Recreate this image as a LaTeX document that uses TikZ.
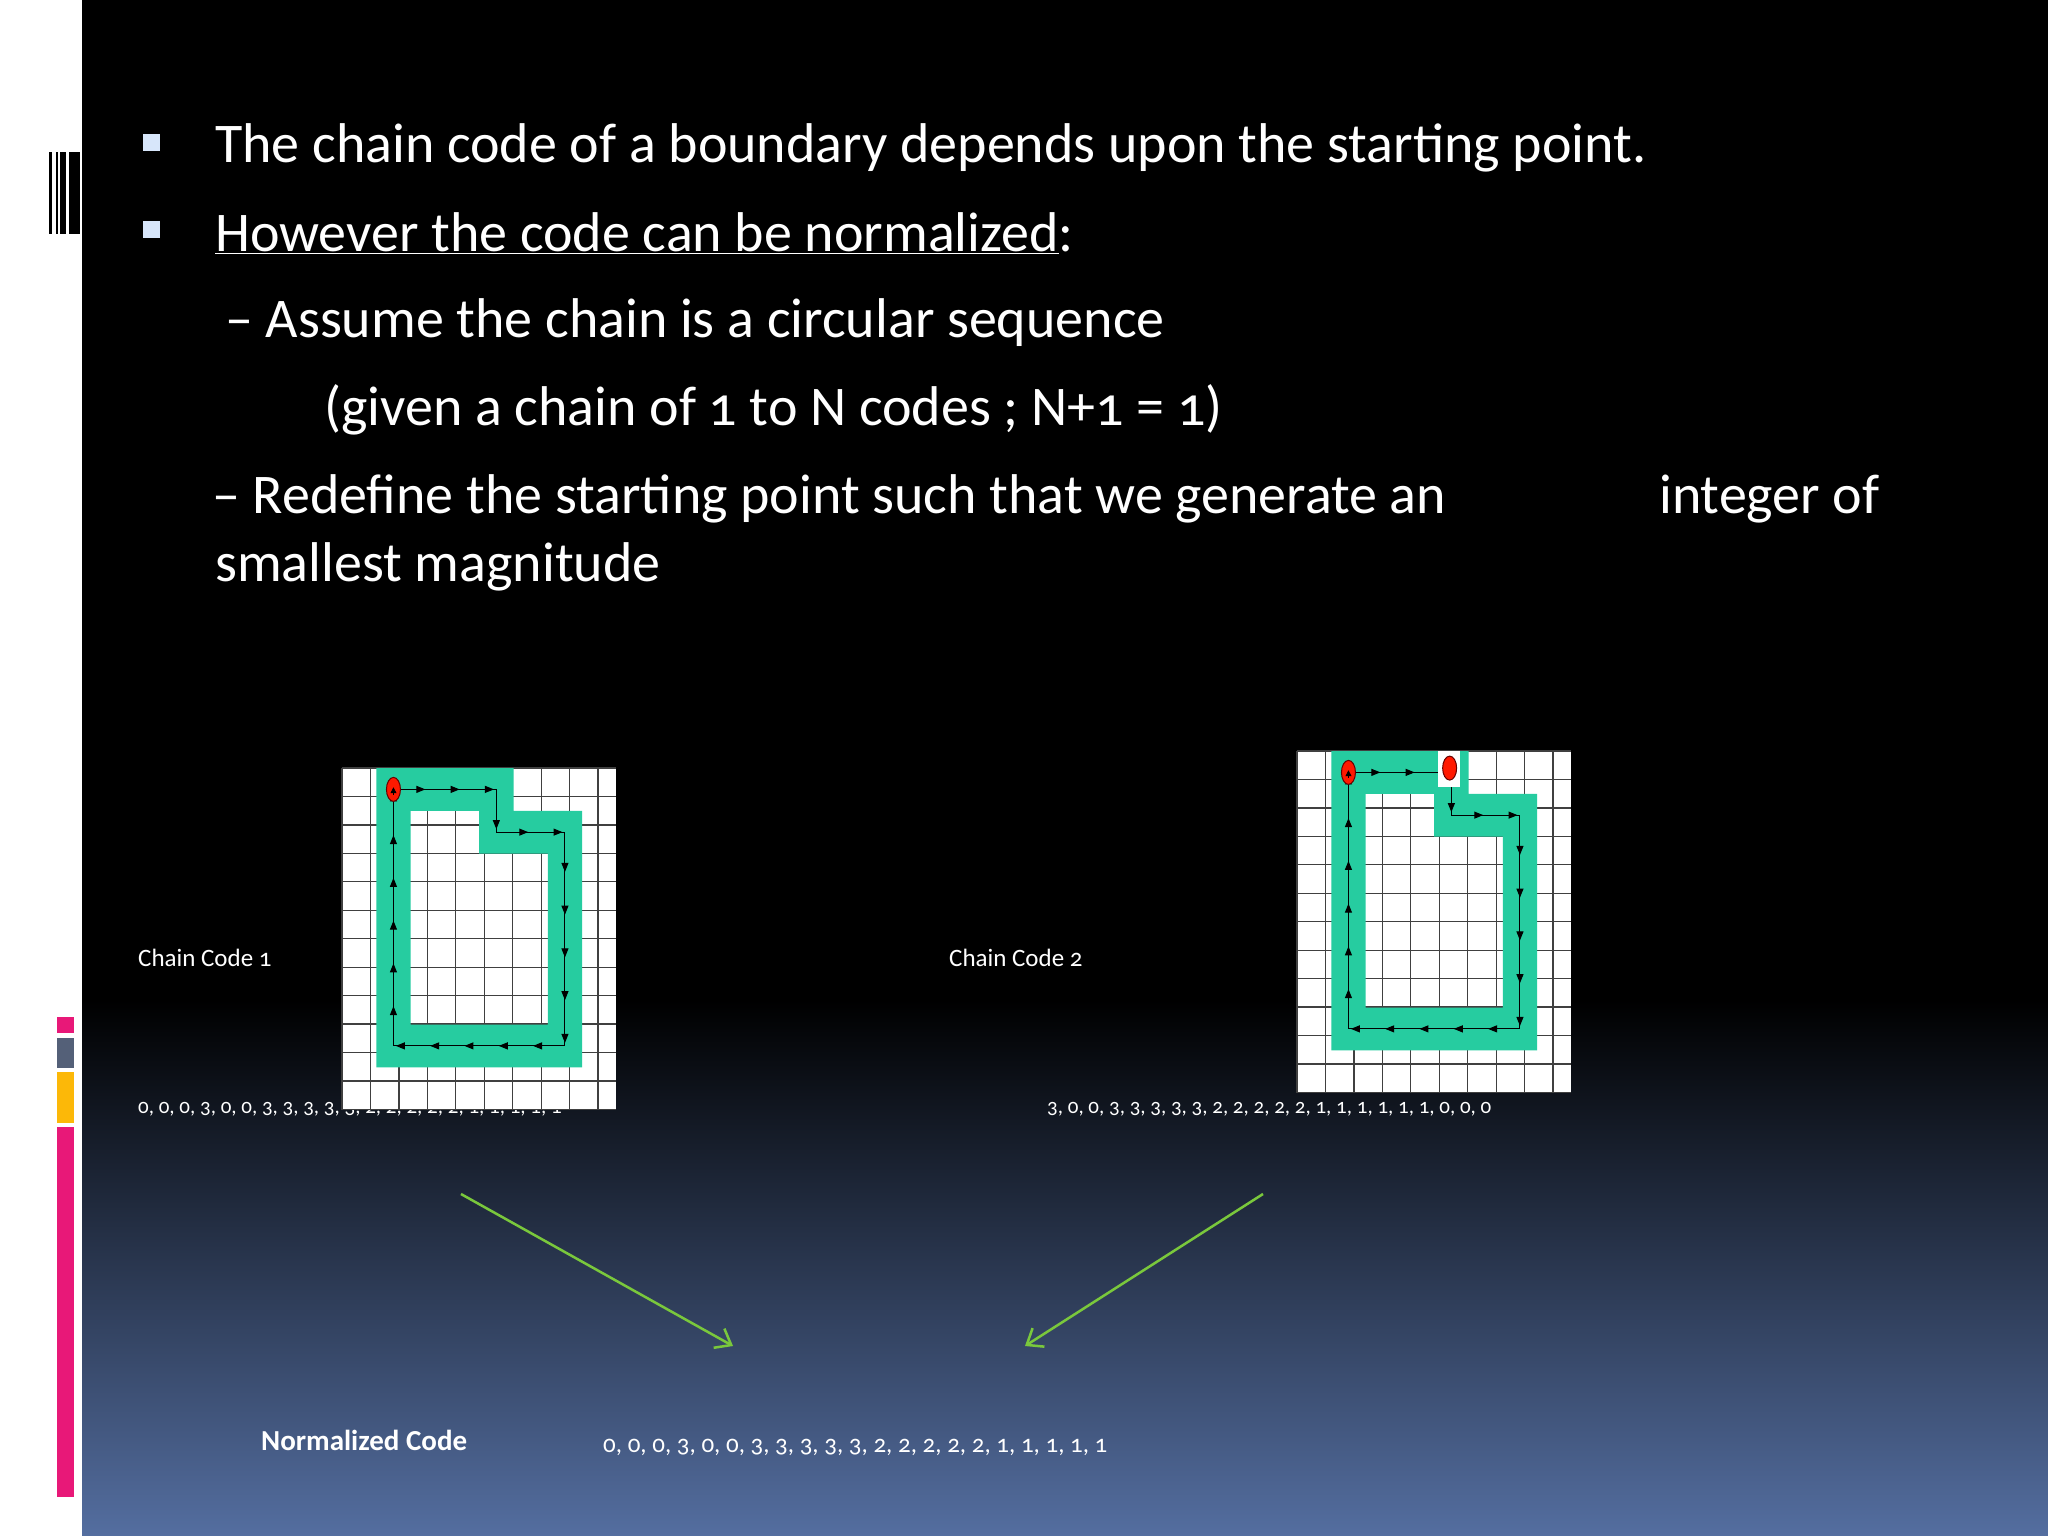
\documentclass[tikz,border=0pt]{standalone}
\usepackage{fontspec}
\setmainfont{Carlito}[Numbers=OldStyle]
\newfontfamily\lining{Carlito}
\usetikzlibrary{arrows.meta,decorations.markings,shapes.geometric}
\definecolor{teal1}{RGB}{38,204,160}
\definecolor{bgblue}{RGB}{84,110,160}
\definecolor{arrgreen}{RGB}{122,200,60}
\definecolor{pinkbar}{RGB}{232,24,120}
\definecolor{graybar}{RGB}{84,96,120}
\definecolor{orangebar}{RGB}{252,184,8}
\definecolor{bulletc}{RGB}{215,230,250}
\tikzset{
  txt/.style={text=white,anchor=base west,inner sep=0pt,font=\fontsize{56}{60}\selectfont},
  small/.style={text=white,anchor=base west,inner sep=0pt,font=\fontsize{25}{28}\selectfont},
  tiny/.style={text=white,anchor=base west,inner sep=0pt,font=\fontsize{21}{24}\selectfont},
  chainseg/.style={draw=black,line width=1pt,postaction={decorate},decoration={markings,mark=at position 0.93 with {\arrow{Triangle[length=9pt,width=7pt]}}}},
  greenarrow/.style={draw=arrgreen,line width=2.5pt,-{Straight Barb[length=14pt,width=22pt,line width=2.5pt]}},
  reddot/.style={ellipse,fill=red!80!orange,draw=red!40!black,line width=1pt,minimum width=14pt,minimum height=24pt,inner sep=0pt}
}
\newcommand\chaingrid[3]{%
\begin{scope}[shift={(#1pt,-#2pt)},x=34.3pt,y=-42.75pt]
  \fill[white] (0,0) rectangle (8,8);
  \draw[black!75,line width=1.2pt] (0,0) grid (8,8);
  \fill[teal1,even odd rule] (1,0)--(5,0)--(5,1)--(7,1)--(7,7)--(1,7)--cycle
     (2,1)--(4,1)--(4,2)--(6,2)--(6,6)--(2,6)--cycle;
  \foreach \a/\b/\c/\d in {1.5/0.5/2.5/0.5,2.5/0.5/3.5/0.5,3.5/0.5/4.5/0.5,4.5/0.5/4.5/1.5,
     4.5/1.5/5.5/1.5,5.5/1.5/6.5/1.5,6.5/1.5/6.5/2.5,6.5/2.5/6.5/3.5,6.5/3.5/6.5/4.5,6.5/4.5/6.5/5.5,6.5/5.5/6.5/6.5,
     6.5/6.5/5.5/6.5,5.5/6.5/4.5/6.5,4.5/6.5/3.5/6.5,3.5/6.5/2.5/6.5,2.5/6.5/1.5/6.5,
     1.5/6.5/1.5/5.5,1.5/5.5/1.5/4.5,1.5/4.5/1.5/3.5,1.5/3.5/1.5/2.5,1.5/2.5/1.5/1.5,1.5/1.5/1.5/0.5}
     {\draw[chainseg] (\a,\b)--(\c,\d);}
  \node[reddot] (#3start) at (1.5,0.5) {};
  \draw[-{Triangle[length=6pt,width=6pt]},line width=0.6pt] (1.5,0.62)--(1.5,0.45);
\end{scope}}
\begin{document}
\begin{tikzpicture}[x=1pt,y=-1pt]
\useasboundingbox (0,0) rectangle (2048,1536);
\fill[black] (0,0) rectangle (2048,1536);
\shade[top color=black,bottom color=bgblue] (82,1000) rectangle (2048,1536);
\fill[white] (0,0) rectangle (82,1536);
% left decorations
\foreach \xa/\xb in {49/52,56/58,60/66,69/80} \fill[black] (\xa,152) rectangle (\xb,234);
\fill[pinkbar] (57,1017) rectangle (74,1033);
\fill[graybar] (57,1038) rectangle (74,1068);
\fill[orangebar] (57,1072) rectangle (74,1123);
\fill[pinkbar] (57,1127) rectangle (74,1497);
% bullets
\fill[bulletc] (143,134) rectangle (160,151);
\fill[bulletc] (143,221) rectangle (160,238);
\node[txt] (l1) at (215,163) {The chain code of a boundary depends upon the starting point.};
\node[txt] (l2) at (215,251) {\underline{However the code can be normalized}:};
\node[txt] (l3) at (225,337) {– Assume the chain is a circular sequence};
\node[txt] (l4) at (324,425) {(given a chain of 1 to N codes ; N+1 = 1)};
\node[txt] (l5) at (212,513) {– Redefine the starting point such that we generate an};
\node[txt] (l5b) at (1659,513) {integer of};
\node[txt] (l6) at (215,581) {smallest magnitude};
% labels
\node[small] (cc1) at (138,966) {Chain Code 1};
\node[small] (cc2) at (949,966) {Chain Code 2};
\node[tiny] (code1) at (138,1113) {0, 0, 0, 3, 0, 0, 3, 3, 3, 3, 3, 2, 2, 2, 2, 2, 1, 1, 1, 1, 1};
\node[tiny] (code2) at (1047,1113) {3, 0, 0, 3, 3, 3, 3, 3, 2, 2, 2, 2, 2, 1, 1, 1, 1, 1, 1, 0, 0, 0};
% grids
\chaingrid{342}{768}{a}
\chaingrid{1297}{751}{b}
\begin{scope}[shift={(1297pt,-751pt)},x=34.3pt,y=-42.75pt]
  \fill[white] (4.1,0) rectangle (4.75,0.85);
  \node[reddot] (bsecond) at (4.45,0.4) {};
\end{scope}
% arrows
\coordinate (a1s) at (461,1194); \coordinate (a1e) at (733,1346);
\coordinate (a2s) at (1263,1194); \coordinate (a2e) at (1025,1346);
\draw[greenarrow] (a1s)--(a1e);
\draw[greenarrow] (a2s)--(a2e);
\node[text=white,anchor=base west,inner sep=0pt,font=\lining\bfseries\fontsize{29}{32}\selectfont] (nc) at (261,1450) {Normalized Code};
\node[text=white,anchor=base west,inner sep=0pt,font=\fontsize{25}{28}\selectfont] (ncode) at (603,1452) {0, 0, 0, 3, 0, 0, 3, 3, 3, 3, 3, 2, 2, 2, 2, 2, 1, 1, 1, 1, 1};
\end{tikzpicture}
\end{document}
